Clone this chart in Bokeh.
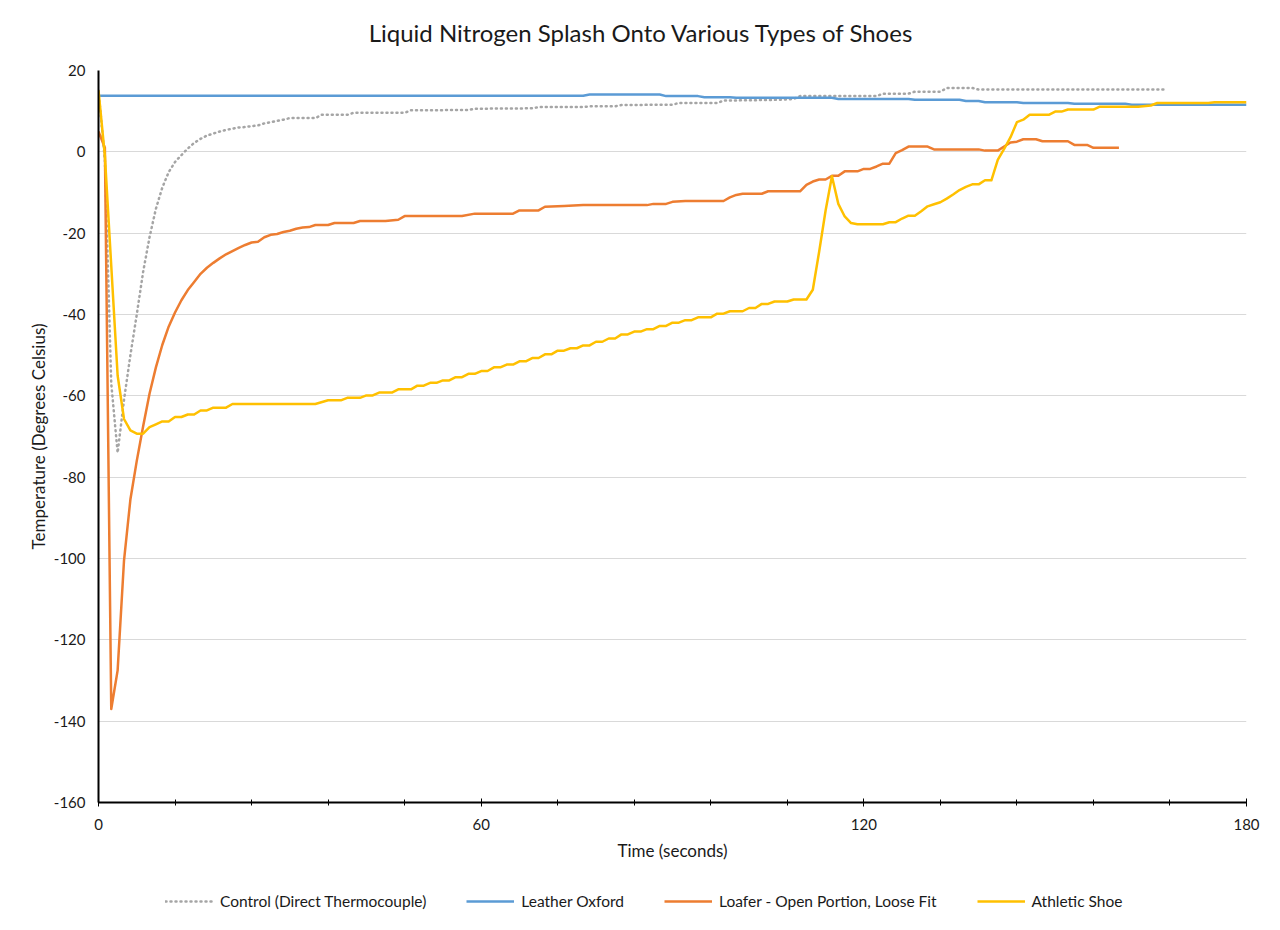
from bokeh.plotting import figure
from bokeh.layouts import column
from bokeh.models import FixedTicker, Legend, LegendItem, Range1d, Label
from bokeh.embed import file_html
from bokeh.resources import INLINE

title_text = "Liquid Nitrogen Splash Onto Various Types of Shoes"
x_label = "Time (seconds)"
y_label = "Temperature (Degrees Celsius)"
series_names = ["Control (Direct Thermocouple)", "Leather Oxford",
                "Loafer - Open Portion, Loose Fit", "Athletic Shoe"]
series_colors = ["#a5a5a5", "#5b9bd5", "#ed7d31", "#ffc000"]
x_ticks = [0, 60, 120, 180]
x_minor_ticks = [12, 24, 36, 48, 72, 84, 96, 108, 132, 144, 156, 168]
y_ticks = [-160, -140, -120, -100, -80, -60, -40, -20, 0, 20]

control_t = [0, 1, 2, 3, 4, 5, 6, 7, 8, 9, 10, 11, 12, 13, 14, 15, 16, 17, 18, 19,
             20, 21, 22, 23, 24, 25, 26, 27, 28, 29, 30, 34, 35, 39, 40, 48, 49, 58,
             59, 68, 69, 76, 77, 81, 82, 90, 91, 97, 98, 107, 109, 110, 122, 123, 127,
             128, 132, 133, 137, 138, 167]
control_v = [15, -2, -57, -74, -61, -50, -40, -29.5, -21, -14, -8.8, -5, -2.5, -0.8,
             0.8, 2.2, 3.2, 4, 4.5, 5, 5.4, 5.7, 6, 6.1, 6.3, 6.5, 7, 7.3, 7.6, 7.9,
             8.3, 8.3, 9.1, 9.1, 9.6, 9.6, 10.2, 10.3, 10.6, 10.7, 11.0, 11.0, 11.2,
             11.2, 11.5, 11.6, 12.0, 12.0, 12.6, 12.8, 13.0, 13.7, 13.7, 14.3, 14.3,
             14.8, 14.8, 15.7, 15.7, 15.3, 15.3]

leather_t = [0, 76, 77, 88, 89, 94, 95, 99, 100, 115, 116, 127, 128, 135, 136, 138,
             139, 144, 145, 152, 153, 161, 162, 180]
leather_v = [13.8, 13.8, 14.1, 14.1, 13.7, 13.7, 13.4, 13.4, 13.3, 13.3, 13.0, 13.0,
             12.8, 12.8, 12.5, 12.5, 12.2, 12.2, 12.0, 12.0, 11.8, 11.8, 11.6, 11.6]

loafer_t = [0, 1, 2, 3, 4, 5, 6, 7, 8, 9, 10, 11, 12, 13, 14, 15, 16, 17, 18, 19, 20,
            21, 22, 23, 24, 25, 26, 27, 28, 29, 30, 31, 32, 33, 34, 36, 37, 40, 41, 45,
            47, 48, 57, 59, 65, 66, 69, 70, 73, 76, 86, 87, 89, 90, 92, 98, 99, 100,
            101, 104, 105, 110, 111, 112, 113, 114, 115, 116, 117, 119, 120, 121, 122,
            123, 124, 125, 126, 127, 130, 131, 138, 139, 141, 142, 143, 144, 145, 147,
            148, 152, 153, 155, 156, 160]
loafer_v = [5, 1, -137, -127.5, -100.5, -85.5, -76, -67.5, -59.5, -53, -47.5, -43,
            -39.5, -36.5, -34, -32, -30, -28.5, -27.3, -26.2, -25.2, -24.4, -23.6,
            -22.9, -22.3, -22.1, -21, -20.4, -20.2, -19.7, -19.4, -18.9, -18.6, -18.5,
            -18, -18, -17.5, -17.5, -17, -17, -16.7, -15.8, -15.8, -15.2, -15.2, -14.4,
            -14.4, -13.5, -13.3, -13.1, -13.1, -12.8, -12.8, -12.3, -12.1, -12.1,
            -11.2, -10.6, -10.3, -10.3, -9.7, -9.7, -8.1, -7.3, -6.8, -6.8, -5.9, -5.9,
            -4.8, -4.8, -4.2, -4.2, -3.6, -2.9, -2.9, -0.3, 0.4, 1.3, 1.3, 0.6, 0.6,
            0.3, 0.3, 1.3, 2.3, 2.5, 3.1, 3.1, 2.6, 2.6, 1.7, 1.7, 1.0, 1.0]

athletic_t = [0, 1, 2, 3, 4, 5, 6, 7, 8, 9, 10, 11, 12, 13, 14, 15, 16, 17, 18, 20, 21,
              34, 36, 38, 39, 41, 42, 43, 44, 46, 47, 49, 50, 51, 52, 53, 54, 55, 56,
              57, 58, 59, 60, 61, 62, 63, 64, 65, 66, 67, 68, 69, 70, 71, 72, 73, 74,
              75, 76, 77, 78, 79, 80, 81, 82, 83, 84, 85, 86, 87, 88, 89, 90, 91, 92,
              93, 94, 96, 97, 98, 99, 101, 102, 103, 104, 105, 106, 108, 109, 111, 112,
              113, 114, 115, 116, 117, 118, 119, 123, 124, 125, 126, 127, 128, 129,
              130, 131, 132, 133, 134, 135, 136, 137, 138, 139, 140, 141, 142, 143,
              144, 145, 146, 149, 150, 151, 152, 156, 157, 163, 165, 166, 174, 175, 180]
athletic_v = [15.1, -1, -28, -55, -65.7, -68.5, -69.3, -69.3, -67.7, -67, -66.3, -66.3,
              -65.2, -65.2, -64.6, -64.6, -63.6, -63.6, -62.9, -62.9, -62, -62,
              -61.1, -61.1, -60.5, -60.5, -59.9, -59.9, -59.2, -59.2, -58.4, -58.4,
              -57.5, -57.5, -56.8, -56.8, -56.2, -56.2, -55.4, -55.4, -54.6, -54.6,
              -53.9, -53.9, -53.0, -53.0, -52.3, -52.3, -51.5, -51.5, -50.7, -50.7,
              -49.8, -49.8, -48.9, -48.9, -48.3, -48.3, -47.6, -47.6, -46.7, -46.7,
              -45.9, -45.9, -44.9, -44.9, -44.2, -44.2, -43.6, -43.6, -42.8, -42.8,
              -42.0, -42.0, -41.4, -41.4, -40.7,
              -40.7, -39.8, -39.8, -39.2,
              -39.2, -38.4, -38.4, -37.4, -37.4, -36.8,
              -36.8, -36.3,
              -36.3, -33.9, -24.5, -14.5, -6, -12.8, -15.9, -17.5, -17.8,
              -17.8, -17.3, -17.3, -16.4, -15.7, -15.7, -14.6, -13.4, -12.9, -12.4,
              -11.5, -10.5, -9.4, -8.6, -8.0, -8.0, -7.0, -7.0, -2.0, 0.7, 3.6, 7.3,
              7.9, 9.1,
              9.1, 9.9, 9.9, 10.4,
              10.4, 11.1,
              11.1, 11.4, 12.0,
              12.0, 12.2, 12.2]

FONT = "Lato"
TXT = "#1a1a1a"
LW = 2.5
PAD_L, PAD_R = 98, 34


def strip_fig(h, y0, y1):
    # x data units equal screen pixels (frame spans 98..1246)
    f = figure(width=1280, height=h, output_backend="svg", toolbar_location=None,
               x_range=Range1d(PAD_L, 1280 - PAD_R), y_range=Range1d(y0, y1),
               x_axis_location=None, y_axis_location=None,
               min_border_left=PAD_L, min_border_right=PAD_R,
               min_border_top=0, min_border_bottom=0)
    f.outline_line_color = None
    f.xgrid.grid_line_color = None
    f.ygrid.grid_line_color = None
    f.background_fill_color = "white"
    f.border_fill_color = "white"
    return f


# ---- title strip ----
tf = strip_fig(50, 0, 50)
tf.add_layout(Label(x=641, y=18, text=title_text, text_align="center",
                    text_baseline="middle", text_font=FONT, text_font_size="24px",
                    text_color=TXT))

# ---- main plot ----
p = figure(width=1280, height=820, output_backend="svg", toolbar_location=None,
           x_range=Range1d(0, 180), y_range=Range1d(-160, 20),
           min_border_left=PAD_L, min_border_right=PAD_R, min_border_top=20,
           min_border_bottom=68)
p.outline_line_color = None
p.background_fill_color = "white"
p.border_fill_color = "white"

r_control = p.line(control_t, control_v, line_color=series_colors[0], line_width=LW,
                   line_dash="1 4", line_cap="round")
r_leather = p.line(leather_t, leather_v, line_color=series_colors[1], line_width=LW)
r_loafer = p.line(loafer_t, loafer_v, line_color=series_colors[2], line_width=LW,
                  line_join="round")
r_athletic = p.line(athletic_t, athletic_v, line_color=series_colors[3],
                    line_width=LW, line_join="round")

xa = p.xaxis[0]
xa.ticker = FixedTicker(ticks=x_ticks, minor_ticks=x_minor_ticks)
xa.axis_label = x_label
xa.axis_line_color = "black"
xa.axis_line_width = 2
xa.major_tick_line_color = "black"
xa.major_tick_in = 4
xa.major_tick_out = 4
xa.minor_tick_line_color = "black"
xa.minor_tick_in = 3
xa.minor_tick_out = 3
xa.major_label_standoff = 12
xa.major_label_text_font = FONT
xa.major_label_text_font_size = "15px"
xa.major_label_text_color = TXT
xa.axis_label_text_font = FONT
xa.axis_label_text_font_size = "17px"
xa.axis_label_text_font_style = "normal"
xa.axis_label_text_color = TXT
xa.axis_label_standoff = 7

ya = p.yaxis[0]
ya.ticker = FixedTicker(ticks=y_ticks)
ya.major_label_overrides = {t: str(t) for t in y_ticks}
ya.axis_label = y_label
ya.axis_line_color = "black"
ya.axis_line_width = 2
ya.major_tick_line_color = None
ya.minor_tick_line_color = None
ya.major_label_standoff = 7
ya.major_label_text_font = FONT
ya.major_label_text_font_size = "15px"
ya.major_label_text_color = TXT
ya.axis_label_text_font = FONT
ya.axis_label_text_font_size = "17px"
ya.axis_label_text_font_style = "normal"
ya.axis_label_text_color = TXT
ya.axis_label_standoff = 2

p.xgrid.grid_line_color = None
p.ygrid.grid_line_color = "#d9d9d9"
p.ygrid.grid_line_width = 1

# ---- legend strip (series redrawn outside its visible y range, only the
#      legend swatches show) ----
lf = strip_fig(60, 1000, 1060)
l0 = lf.line(control_t, control_v, line_color=series_colors[0], line_width=LW,
             line_dash="1 4", line_cap="round")
l1 = lf.line(leather_t, leather_v, line_color=series_colors[1], line_width=LW)
l2 = lf.line(loafer_t, loafer_v, line_color=series_colors[2], line_width=LW)
l3 = lf.line(athletic_t, athletic_v, line_color=series_colors[3], line_width=LW)
legend = Legend(items=[
    LegendItem(label=series_names[0], renderers=[l0]),
    LegendItem(label=series_names[1], renderers=[l1]),
    LegendItem(label=series_names[2], renderers=[l2]),
    LegendItem(label=series_names[3], renderers=[l3]),
], orientation="horizontal", location=(67, 19))
legend.label_text_font = FONT
legend.label_text_font_size = "15.5px"
legend.label_text_color = TXT
legend.glyph_width = 48
legend.label_standoff = 7
legend.spacing = 40
legend.border_line_color = None
legend.background_fill_alpha = 0
legend.margin = 0
legend.padding = 4
lf.add_layout(legend, "center")

layout = column(tf, p, lf, spacing=0)
open("out.html", "w").write(file_html(layout, INLINE))
